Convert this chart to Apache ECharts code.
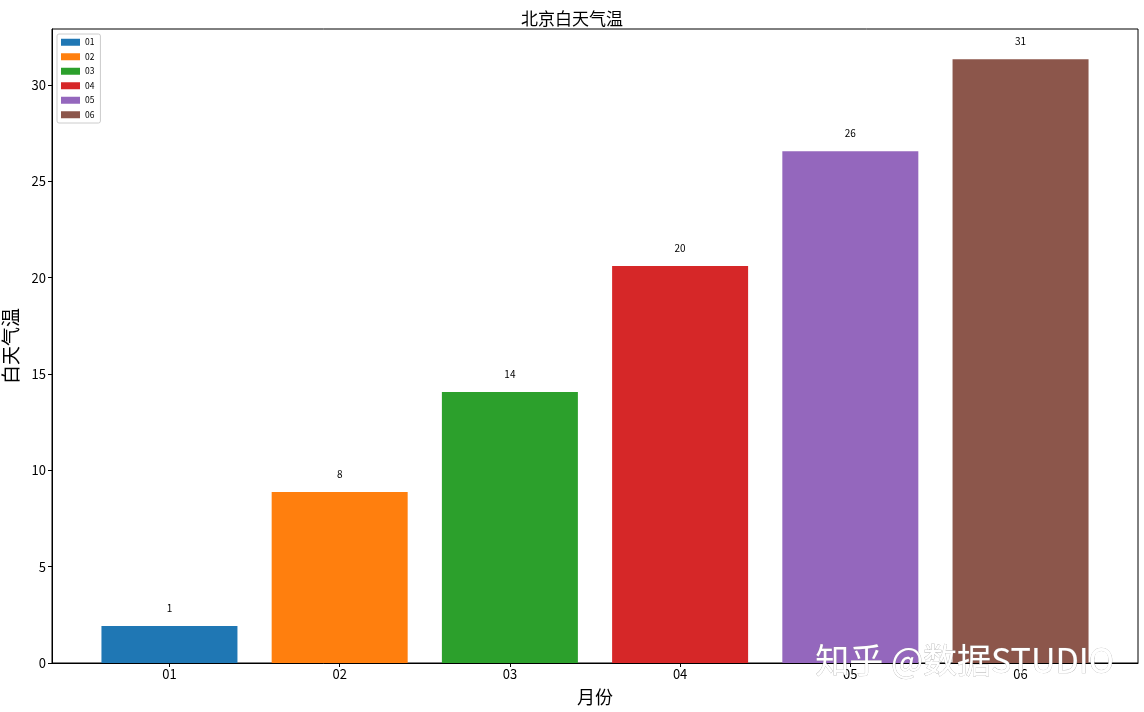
<!DOCTYPE html>
<html>
<head>
<meta charset="utf-8">
<title>北京白天气温</title>
<script src="https://cdn.jsdelivr.net/npm/echarts@6/dist/echarts.min.js"></script>
<style>
  html, body { margin: 0; padding: 0; background: #fff; }
  #main { width: 1144px; height: 712px; }
</style>
</head>
<body>
<div id="main"></div>
<script>
// months, daytime temperature (bar height) and the printed integer labels
var months = ['01', '02', '03', '04', '05', '06'];
var temps = [1.92, 8.87, 14.06, 20.6, 26.55, 31.33];
var labels = [1, 8, 14, 20, 26, 31];
var colors = ['#1f77b4', '#ff7f0e', '#2ca02c', '#d62728', '#9467bd', '#8c564b'];
var yTicks = [0, 5, 10, 15, 20, 25, 30];

var font = '"Noto Sans CJK SC", "DejaVu Sans", sans-serif';
var chart = echarts.init(document.getElementById('main'));

var series = months.map(function (m, i) {
    return {
        name: m,
        type: 'bar',
        barWidth: 136,
        barGap: '-100%',
        itemStyle: { color: colors[i] },
        label: {
            show: true,
            position: 'top',
            distance: 13,
            color: '#000',
            fontSize: 10,
            fontFamily: font,
            formatter: function () { return String(labels[i]); }
        },
        data: [[i, temps[i]]]
    };
});

var option = {
    animation: false,
    backgroundColor: '#fff',
    title: {
        text: '北京白天气温',
        left: 'center',
        top: 5,
        textStyle: { fontSize: 17, fontWeight: 'normal', color: '#000', fontFamily: font }
    },
    legend: {
        data: months,
        orient: 'vertical',
        left: 57,
        top: 34,
        itemWidth: 19,
        itemHeight: 7,
        itemGap: 6,
        padding: [4, 6, 4, 4],
        borderColor: '#ccc',
        borderWidth: 1,
        borderRadius: 2,
        icon: 'rect',
        textStyle: { fontSize: 8.5, color: '#000', fontFamily: font }
    },
    grid: {
        left: 52, right: 6, top: 29, bottom: 49,
        containLabel: false,
        outerBoundsMode: 'none',
        show: true, borderColor: '#000', borderWidth: 1
    },
    xAxis: {
        type: 'value',
        min: -0.69,
        max: 5.69,
        name: '月份',
        nameLocation: 'middle',
        nameGap: 25,
        nameTextStyle: { fontSize: 18, color: '#000', fontFamily: font },
        splitLine: { show: false },
        axisLine: { show: true, onZero: false, lineStyle: { color: '#000' } },
        axisTick: { show: true, inside: false, length: 4, customValues: [0, 1, 2, 3, 4, 5], lineStyle: { color: '#000' } },
        axisLabel: {
            customValues: [0, 1, 2, 3, 4, 5],
            color: '#000',
            fontSize: 13,
            fontFamily: font,
            margin: 5,
            formatter: function (v) { return months[Math.round(v)]; }
        }
    },
    yAxis: {
        type: 'value',
        min: 0,
        max: 32.9,
        name: '白天气温',
        nameLocation: 'middle',
        nameGap: 2,
        nameTextStyle: { fontSize: 19, color: '#000', fontFamily: font },
        splitLine: { show: false },
        axisLine: { show: true, onZero: false, lineStyle: { color: '#000' } },
        axisTick: { show: true, length: 4, customValues: yTicks, lineStyle: { color: '#000' } },
        axisLabel: {
            customValues: yTicks,
            color: '#000',
            fontSize: 13,
            fontFamily: font,
            margin: 6
        }
    },
    graphic: [{
        type: 'text',
        left: 815,
        top: 643,
        z: 100,
        style: {
            text: '知乎 @数据STUDIO',
            fill: '#fff',
            font: '34px "Noto Sans CJK SC", sans-serif',
            stroke: 'rgba(140,140,140,0.7)',
            lineWidth: 0.6,
            shadowColor: 'rgba(70,70,70,0.8)',
            shadowBlur: 1,
            shadowOffsetX: 3,
            shadowOffsetY: 3
        }
    }],
    series: series
};

chart.setOption(option);
</script>
</body>
</html>
